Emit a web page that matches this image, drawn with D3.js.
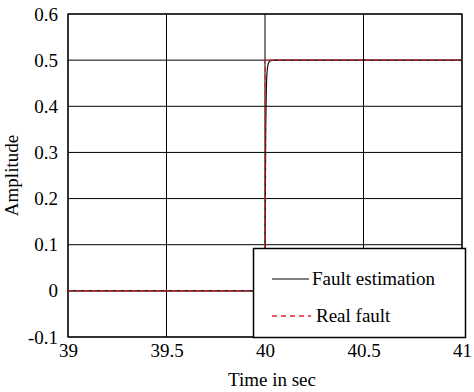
<!DOCTYPE html>
<html><head><meta charset="utf-8">
<script src="https://cdn.jsdelivr.net/npm/d3@7/dist/d3.min.js"></script>
<style>body{margin:0;background:#fff;} text{font-family:"Liberation Serif","Times New Roman",serif;fill:#000;}</style>
</head><body>
<svg id="c" width="474" height="392"></svg>
<script>
const xTicks = [39, 39.5, 40, 40.5, 41];
const yTicks = [-0.1, 0, 0.1, 0.2, 0.3, 0.4, 0.5, 0.6];
const estTime = [39, 40.0, 40.001, 40.002, 40.003, 40.004, 40.006, 40.008, 40.010, 40.013, 40.017, 40.022, 40.03, 40.05, 41];
const estVal  = [0, 0, 0.12, 0.22, 0.30, 0.36, 0.42, 0.455, 0.472, 0.485, 0.493, 0.497, 0.499, 0.5, 0.5];
const realTime = [39, 40, 40, 41];
const realVal  = [0, 0, 0.5, 0.5];
const legendLabels = ["Fault estimation", "Real fault"];

const svg = d3.select("#c");
const L = 68, R = 462, T = 14, B = 337;
const FS = "19px";
const fmt = d => String(d).replace("\u2212", "-");
const x = d3.scaleLinear().domain([39, 41]).range([L, R]);
const y = d3.scaleLinear().domain([-0.1, 0.6]).range([B, T]);

// grid
svg.append("g").selectAll("line").data(xTicks).join("line")
  .attr("x1", d => x(d)).attr("x2", d => x(d)).attr("y1", T).attr("y2", B)
  .attr("stroke", "#000").attr("stroke-width", 1);
svg.append("g").selectAll("line").data(yTicks).join("line")
  .attr("x1", L).attr("x2", R).attr("y1", d => y(d)).attr("y2", d => y(d))
  .attr("stroke", "#000").attr("stroke-width", 1);

// axes
const xAxis = svg.append("g").attr("transform", `translate(0,${B})`)
  .call(d3.axisBottom(x).tickValues(xTicks).tickFormat(fmt).tickSize(0).tickPadding(7));
xAxis.select(".domain").remove();
xAxis.selectAll("text").style("font-size", FS).style("font-family", "Liberation Serif");
const yAxis = svg.append("g").attr("transform", `translate(${L},0)`)
  .call(d3.axisLeft(y).tickValues(yTicks).tickFormat(fmt).tickSize(0).tickPadding(10));
yAxis.select(".domain").remove();
yAxis.selectAll("text").style("font-size", FS).style("font-family", "Liberation Serif");

svg.append("rect").attr("x", L).attr("y", T).attr("width", R - L).attr("height", B - T)
  .attr("fill", "none").attr("stroke", "#000").attr("stroke-width", 1.2);

// lines
const line = d3.line().x(d => x(d[0])).y(d => y(d[1]));
svg.append("path").datum(estTime.map((t, i) => [t, estVal[i]])).attr("d", line)
  .attr("fill", "none").attr("stroke", "#111").attr("stroke-width", 1.2);
svg.append("path").datum(realTime.map((t, i) => [t, realVal[i]])).attr("d", line)
  .attr("fill", "none").attr("stroke", "#e8202c").attr("stroke-width", 1.3).attr("stroke-dasharray", "5,3");

// legend
const lg = svg.append("g");
lg.append("rect").attr("x", 253.5).attr("y", 248.5).attr("width", 212).attr("height", 89)
  .attr("fill", "#fff").attr("stroke", "#000").attr("stroke-width", 1.5);
lg.append("line").attr("x1", 272).attr("x2", 309).attr("y1", 279).attr("y2", 279)
  .attr("stroke", "#555").attr("stroke-width", 1.3);
lg.append("line").attr("x1", 272).attr("x2", 311).attr("y1", 316).attr("y2", 316)
  .attr("stroke", "#e8202c").attr("stroke-width", 1.3).attr("stroke-dasharray", "5,4");
lg.append("text").attr("x", 312).attr("y", 285).style("font-size", FS).text(legendLabels[0]);
lg.append("text").attr("x", 316).attr("y", 322).style("font-size", FS).text(legendLabels[1]);

// titles
svg.append("text").attr("x", 272).attr("y", 386).attr("text-anchor", "middle")
  .style("font-size", FS).text("Time in sec");
svg.append("text").attr("transform", `translate(18,${(T + B) / 2}) rotate(-90)`)
  .attr("text-anchor", "middle").style("font-size", FS).text("Amplitude");
</script>
</body></html>
